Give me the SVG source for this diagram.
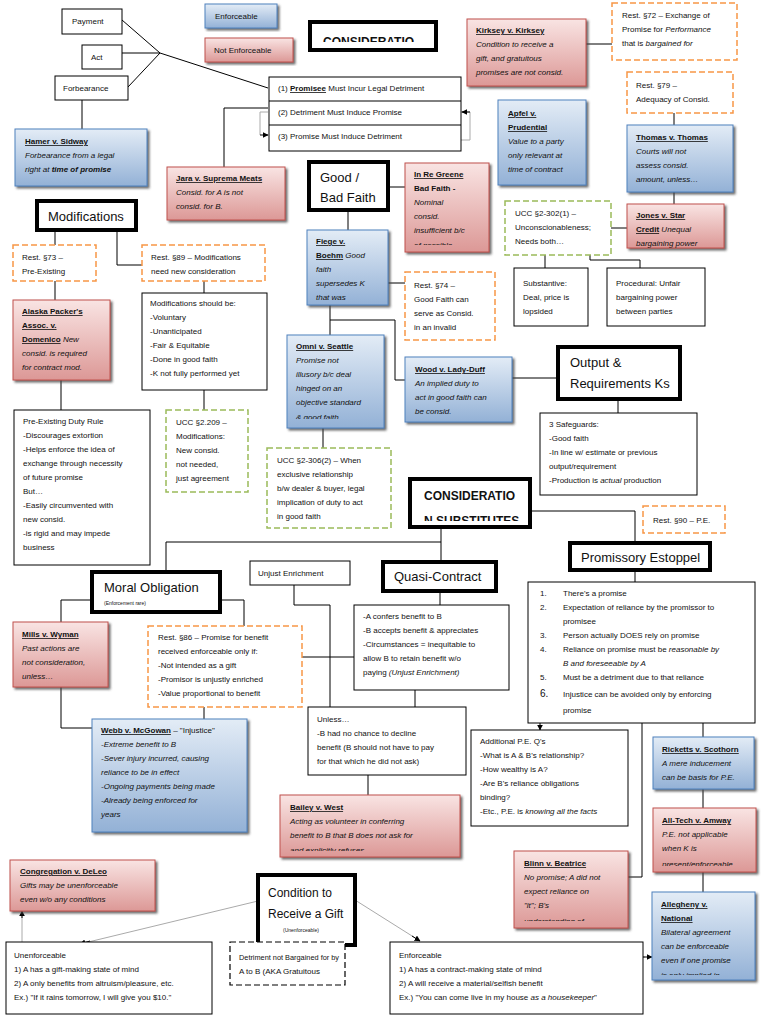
<svg xmlns="http://www.w3.org/2000/svg" width="768" height="1024" viewBox="0 0 768 1024">
<style>
text{font-family:"Liberation Sans",Arial,sans-serif;font-size:8px;fill:#111}
.b{font-weight:bold}.i{font-style:italic}.u{text-decoration:underline;font-weight:bold}
.h{font-size:13px}.s{font-size:5px}
.box{fill:#fff;stroke:#000;stroke-width:1}
.thick{fill:#fff;stroke:#000;stroke-width:4}
.red{fill:url(#gr);stroke:#c0504d;stroke-width:1;filter:url(#sh)}
.blue{fill:url(#gb);stroke:#4f81bd;stroke-width:1;filter:url(#sh)}
.or{fill:#fff;stroke:#f79646;stroke-width:1.5;stroke-dasharray:6 3}
.grn{fill:#fff;stroke:#9bbb59;stroke-width:1.5;stroke-dasharray:6 3}
.dash{fill:#fff;stroke:#000;stroke-width:1.2;stroke-dasharray:6 3}
.ln{stroke:#000;fill:none;stroke-width:1}
.gl{stroke:#aaa;fill:none;stroke-width:1}
</style>
<defs>
<linearGradient id="gr" x1="0" y1="0" x2="0" y2="1"><stop offset="0" stop-color="#f9e4e3"/><stop offset="1" stop-color="#dc9896"/></linearGradient>
<linearGradient id="gb" x1="0" y1="0" x2="0" y2="1"><stop offset="0" stop-color="#e3ecf6"/><stop offset="1" stop-color="#93b1d6"/></linearGradient>
<filter id="sh" x="-10%" y="-10%" width="125%" height="125%"><feDropShadow dx="2" dy="2" stdDeviation="0.8" flood-color="#444" flood-opacity="0.8"/></filter>
<marker id="ah" viewBox="0 0 10 10" refX="9" refY="5" markerWidth="6" markerHeight="6" orient="auto"><path d="M0,0L10,5L0,10z" fill="#000"/></marker>
<clipPath id="c1"><rect x="310" y="22" width="126" height="20"/></clipPath>
<clipPath id="c2"><rect x="410" y="479" width="120" height="42"/></clipPath>
<clipPath id="cg"><rect x="405" y="163" width="84" height="82"/></clipPath>
<clipPath id="c74"><rect x="405" y="272" width="90" height="67"/></clipPath>
<clipPath id="com"><rect x="287" y="335" width="97" height="84"/></clipPath>
<clipPath id="cjs"><rect x="627" y="204" width="97" height="44"/></clipPath>
<clipPath id="cba"><rect x="280" y="795" width="180" height="56"/></clipPath>
<clipPath id="cbl"><rect x="514" y="851" width="114" height="70"/></clipPath>
<clipPath id="cat"><rect x="653" y="808" width="103" height="58"/></clipPath>
<clipPath id="cal"><rect x="652" y="892" width="103" height="83"/></clipPath>
</defs>
<rect width="768" height="1024" fill="#fff"/>

<g id="connectors">
<path class="ln" d="M122,20L160,53L268,88M122,53H160M128,87L160,53M82,100V129M268,108H224V167M586,44H612M674,113V125M674,192V204M611,228H627M545,255V268M590,255V260H640V268M388,187H405M348,210V230M388,283H405M330,305V320H395V380H405M330,320V335M512,378H558M618,399V413M323,428V448M55,230V245M117,230V265H142M55,281V300M204,281V293M204,390V410M61,380V410M166,542V572M166,542H441M441,527V562M530,511H635V543M635,570V582M61,622V600H92M61,687V728H92M220,600H244V626M302,657H354M204,707V719M440,591V605M415,690V707M294,585V605H330V707M368,775V795M703,723V737M703,789V808M703,872V892M642,723V877H628"/>
<path class="ln" d="M540,723V730" marker-end="url(#ah)"/>
<path class="gl" d="M461,112H470V140H461"/>
<path class="ln" d="M470,112H462" marker-end="url(#ah)"/>
<path class="gl" d="M268,112H260V135"/>
<path class="ln" d="M260,135H268" marker-end="url(#ah)"/>
<path class="gl" d="M258,901L80,944"/><path class="ln" d="M90,941L80,944" marker-end="url(#ah)"/>
<path class="gl" d="M355,900L420,941"/><path class="ln" d="M412,936L420,941" marker-end="url(#ah)"/>
<path class="gl" d="M22,942V913"/><path class="ln" d="M22,918V911" marker-end="url(#ah)"/>
<path class="gl" d="M628,957H645"/><path class="ln" d="M643,957H652" marker-end="url(#ah)"/>
</g>

<g id="payment"><rect class="box" x="62" y="9" width="60" height="25"/><text x="72" y="24">Payment</text></g>
<g id="act"><rect class="box" x="82" y="45" width="40" height="24"/><text x="91" y="60">Act</text></g>
<g id="forbearance"><rect class="box" x="55" y="76" width="73" height="24"/><text x="63" y="91">Forbearance</text></g>
<g id="legend-enf"><rect class="blue" x="205" y="4" width="72" height="24"/><text x="215" y="19">Enforceable</text></g>
<g id="legend-not"><rect class="red" x="205" y="38" width="88" height="24"/><text x="214" y="53">Not Enforceable</text></g>
<g id="consideration"><rect class="thick" x="310" y="22" width="126" height="28"/><text class="b" x="323" y="46" style="font-size:12px" clip-path="url(#c1)">CONSIDERATIO</text></g>
<g id="promise-rows"><rect class="box" x="269" y="77" width="192" height="74"/><path class="ln" d="M269,101H461M269,125H461"/>
<text x="278" y="91">(1) <tspan class="u">Promisee</tspan> Must Incur Legal Detriment</text>
<text x="278" y="115">(2) Detriment Must Induce Promise</text>
<text x="278" y="139">(3) Promise Must Induce Detriment</text></g>
<g id="hamer"><rect class="blue" x="15" y="129" width="132" height="57"/><text x="25" y="144" class="u">Hamer v. Sidway</text><text x="25" y="158" class="i">Forbearance from a legal</text><text x="25" y="172" class="i">right at <tspan class="b">time of promise</tspan></text></g>
<g id="jara"><rect class="red" x="167" y="167" width="118" height="53"/><text x="176" y="181" class="u">Jara v. Suprema Meats</text><text x="176" y="195" class="i">Consid. for A is not</text><text x="176" y="209" class="i">consid. for B.</text></g>
<g id="kirksey"><rect class="red" x="467" y="19" width="119" height="67"/><text x="476" y="33" class="u">Kirksey v. Kirksey</text><text x="476" y="47" class="i">Condition to receive a</text><text x="476" y="61" class="i">gift, and gratuitous</text><text x="476" y="75" class="i">promises are not consid.</text></g>
<g id="rest72"><rect class="or" x="612" y="3" width="125" height="57"/><text x="622" y="18">Rest. §72 – Exchange of</text><text x="622" y="32">Promise for <tspan class="i">Performance</tspan></text><text x="622" y="46">that is <tspan class="i">bargained for</tspan></text></g>
<g id="rest79"><rect class="or" x="627" y="72" width="106" height="41"/><text x="636" y="88">Rest. §79 –</text><text x="636" y="102">Adequacy of Consid.</text></g>
<g id="apfel"><rect class="blue" x="498" y="100" width="88" height="85"/><text x="508" y="116" class="u">Apfel v.</text><text x="508" y="130" class="u">Prudential</text><text x="508" y="144" class="i">Value to a party</text><text x="508" y="158" class="i">only relevant at</text><text x="508" y="172" class="i">time of contract</text></g>
<g id="thomas"><rect class="blue" x="627" y="125" width="106" height="67"/><text x="636" y="140" class="u">Thomas v. Thomas</text><text x="636" y="154" class="i">Courts will not</text><text x="636" y="168" class="i">assess consid.</text><text x="636" y="182" class="i">amount, unless…</text></g>
<g id="jones"><rect class="red" x="627" y="204" width="97" height="44"/><g clip-path="url(#cjs)"><text x="636" y="218" class="u">Jones v. Star</text><text x="636" y="232"><tspan class="u">Credit</tspan><tspan class="i">  Unequal</tspan></text><text x="636" y="246" class="i">bargaining power</text></g></g>
<g id="ucc2302"><rect class="grn" x="505" y="201" width="106" height="54"/><text x="515" y="216">UCC §2-302(1) –</text><text x="515" y="230">Unconscionableness;</text><text x="515" y="244">Needs both…</text></g>
<g id="substantive"><rect class="box" x="514" y="268" width="74" height="58"/><text x="523" y="286">Substantive:</text><text x="523" y="300">Deal, price is</text><text x="523" y="314">lopsided</text></g>
<g id="procedural"><rect class="box" x="607" y="268" width="98" height="58"/><text x="616" y="286">Procedural: Unfair</text><text x="616" y="300">bargaining power</text><text x="616" y="314">between parties</text></g>
<g id="goodbad"><rect class="thick" x="309" y="162" width="79" height="48"/><text x="320" y="182" class="h">Good /</text><text x="320" y="202" class="h">Bad Faith</text></g>
<g id="greene"><rect class="red" x="405" y="163" width="84" height="89"/><g clip-path="url(#cg)"><text x="414" y="177" class="u">In Re Greene</text><text x="414" y="191" class="b">Bad Faith -</text><text x="414" y="205" class="i">Nominal</text><text x="414" y="219" class="i">consid.</text><text x="414" y="233" class="i">insufficient b/c</text><text x="414" y="248" class="i">of possible</text></g></g>
<g id="fiege"><rect class="blue" x="307" y="230" width="81" height="75"/><text x="316" y="244" class="u">Fiege v.</text><text x="316" y="258"><tspan class="u">Boehm</tspan><tspan class="i">   Good</tspan></text><text x="316" y="272" class="i">faith</text><text x="316" y="286" class="i">supersedes K</text><text x="316" y="300" class="i">that was</text></g>
<g id="rest74"><rect class="or" x="405" y="272" width="90" height="68"/><g clip-path="url(#c74)"><text x="414" y="288">Rest. §74 –</text><text x="414" y="302">Good Faith can</text><text x="414" y="316">serve as Consid.</text><text x="414" y="330">in an invalid</text></g></g>
<g id="omni"><rect class="blue" x="287" y="335" width="97" height="93"/><g clip-path="url(#com)"><text x="296" y="349" class="u">Omni v. Seattle</text><text x="296" y="363" class="i">Promise not</text><text x="296" y="377" class="i">illusory b/c deal</text><text x="296" y="391" class="i">hinged on an</text><text x="296" y="405" class="i">objective standard</text><text x="296" y="420" class="i">&amp; good faith</text></g></g>
<g id="wood"><rect class="blue" x="405" y="357" width="107" height="65"/><text x="415" y="372" class="u">Wood v. Lady-Duff</text><text x="415" y="386" class="i">An implied duty to</text><text x="415" y="400" class="i">act in good faith can</text><text x="415" y="414" class="i">be consid.</text></g>
<g id="output"><rect class="thick" x="558" y="347" width="122" height="52"/><text x="570" y="367" class="h">Output &amp;</text><text x="570" y="388" class="h">Requirements Ks</text></g>
<g id="safeguards"><rect class="box" x="540" y="413" width="157" height="82"/><text x="549" y="427">3 Safeguards:</text><text x="549" y="441">-Good faith</text><text x="549" y="455">-In line w/ estimate or previous</text><text x="549" y="469">output/requirement</text><text x="549" y="483">-Production is <tspan class="i">actual</tspan> production</text></g>
<g id="ucc2306"><rect class="grn" x="267" y="448" width="124" height="80"/><text x="277" y="463">UCC §2-306(2) – When</text><text x="277" y="477">exclusive relationship</text><text x="277" y="491">b/w dealer &amp; buyer, legal</text><text x="277" y="505">implication of duty to act</text><text x="277" y="519">in good faith</text></g>
<g id="modifications"><rect class="thick" x="37" y="201" width="99" height="29"/><text x="48" y="221" class="h">Modifications</text></g>
<g id="rest73"><rect class="or" x="13" y="245" width="83" height="36"/><text x="22" y="260">Rest. §73 –</text><text x="22" y="274">Pre-Existing</text></g>
<g id="rest89"><rect class="or" x="142" y="245" width="123" height="36"/><text x="151" y="260">Rest. §89 – Modifications</text><text x="151" y="274">need new consideration</text></g>
<g id="alaska"><rect class="red" x="13" y="300" width="97" height="80"/><text x="22" y="314" class="u">Alaska Packer's</text><text x="22" y="328" class="u">Assoc. v.</text><text x="22" y="342"><tspan class="u">Domenico</tspan><tspan class="i">   New</tspan></text><text x="22" y="356" class="i">consid. is required</text><text x="22" y="370" class="i">for contract mod.</text></g>
<g id="modshould"><rect class="box" x="142" y="293" width="125" height="97"/><text x="150" y="306">Modifications should be:</text><text x="150" y="320">-Voluntary</text><text x="150" y="334">-Unanticipated</text><text x="150" y="348">-Fair &amp; Equitable</text><text x="150" y="362">-Done in good faith</text><text x="150" y="376">-K not fully performed yet</text></g>
<g id="ucc2209"><rect class="grn" x="166" y="410" width="82" height="82"/><text x="176" y="425">UCC §2.209 –</text><text x="176" y="439">Modifications:</text><text x="176" y="453">New consid.</text><text x="176" y="467">not needed,</text><text x="176" y="481">just agreement</text></g>
<g id="preexisting"><rect class="box" x="14" y="410" width="136" height="155"/><text x="23" y="424">Pre-Existing Duty Rule</text><text x="23" y="438">-Discourages extortion</text><text x="23" y="452">-Helps enforce the idea of</text><text x="23" y="466">exchange through necessity</text><text x="23" y="480">of future promise</text><text x="23" y="494">But…</text><text x="23" y="508">-Easily circumvented with</text><text x="23" y="522">new consid.</text><text x="23" y="536">-is rigid and may impede</text><text x="23" y="550">business</text></g>
<g id="substitutes"><rect class="thick" x="410" y="479" width="120" height="48"/><g clip-path="url(#c2)"><text x="424" y="500" class="b" style="font-size:12px">CONSIDERATIO</text><text x="424" y="525" class="b" style="font-size:12px">N SUBSTITUTES</text></g></g>
<g id="rest90"><rect class="or" x="643" y="506" width="82" height="27"/><text x="653" y="523">Rest. §90 – P.E.</text></g>
<g id="pe"><rect class="thick" x="570" y="543" width="140" height="27"/><text x="581" y="562" class="h">Promissory Estoppel</text></g>
<g id="pelist"><rect class="box" x="528" y="582" width="227" height="141"/><text x="540" y="596">1.</text><text x="563" y="596">There's a promise</text><text x="540" y="610">2.</text><text x="563" y="610">Expectation of reliance by the promissor to</text><text x="563" y="624">promisee</text><text x="540" y="638">3.</text><text x="563" y="638">Person actually DOES rely on promise</text><text x="540" y="652">4.</text><text x="563" y="652">Reliance on promise must be <tspan class="i">reasonable by</tspan></text><text x="563" y="666" class="i">B and foreseeable by A</text><text x="540" y="680">5.</text><text x="563" y="680">Must be a detriment due to that reliance</text><text x="540" y="697" style="font-size:10px">6.</text><text x="563" y="697">Injustice can be avoided only by enforcing</text><text x="563" y="713">promise</text></g>
<g id="moral"><rect class="thick" x="92" y="572" width="128" height="40"/><text x="104" y="592" class="h">Moral Obligation</text><text x="104" y="605" class="s">(Enforcement rare)</text></g>
<g id="unjust"><rect class="box" x="250" y="561" width="100" height="24"/><text x="258" y="576">Unjust Enrichment</text></g>
<g id="quasi"><rect class="thick" x="383" y="562" width="113" height="29"/><text x="394" y="581" class="h">Quasi-Contract</text></g>
<g id="quasilist"><rect class="box" x="354" y="605" width="155" height="85"/><text x="363" y="619">-A confers benefit to B</text><text x="363" y="633">-B accepts benefit &amp; appreciates</text><text x="363" y="647">-Circumstances = inequitable to</text><text x="363" y="661">allow B to retain benefit w/o</text><text x="363" y="675">paying <tspan class="i">(Unjust Enrichment)</tspan></text></g>
<g id="mills"><rect class="red" x="13" y="622" width="95" height="65"/><text x="22" y="637" class="u">Mills v. Wyman</text><text x="22" y="651" class="i">Past actions are</text><text x="22" y="665" class="i">not consideration,</text><text x="22" y="679" class="i">unless…</text></g>
<g id="rest86"><rect class="or" x="148" y="626" width="154" height="81"/><text x="158" y="640">Rest. §86 – Promise for benefit</text><text x="158" y="654">received enforceable only if:</text><text x="158" y="668">-Not intended as a gift</text><text x="158" y="682">-Promisor is unjustly enriched</text><text x="158" y="696">-Value proportional to benefit</text></g>
<g id="webb"><rect class="blue" x="92" y="719" width="155" height="113"/><text x="101" y="733"><tspan class="u">Webb v. McGowan</tspan> – "Injustice"</text><text x="101" y="747" class="i">-Extreme benefit to B</text><text x="101" y="761" class="i">-Sever injury incurred, causing</text><text x="101" y="775" class="i">reliance to be in effect</text><text x="101" y="789" class="i">-Ongoing payments being made</text><text x="101" y="803" class="i">-Already being enforced for</text><text x="101" y="817" class="i">years</text></g>
<g id="unless"><rect class="box" x="308" y="707" width="158" height="68"/><text x="317" y="722">Unless…</text><text x="317" y="736">-B had no chance to decline</text><text x="317" y="750">benefit (B should not have to pay</text><text x="317" y="764">for that which he did not ask)</text></g>
<g id="bailey"><rect class="red" x="280" y="795" width="180" height="62"/><g clip-path="url(#cba)"><text x="290" y="810" class="u">Bailey v. West</text><text x="290" y="824" class="i">Acting as volunteer in conferring</text><text x="290" y="838" class="i">benefit to B that B does not ask for</text><text x="290" y="853" class="i">and explicitly refuses</text></g></g>
<g id="additional"><rect class="box" x="471" y="730" width="157" height="96"/><text x="480" y="744">Additional P.E. Q's</text><text x="480" y="758">-What is A &amp; B's relationship?</text><text x="480" y="772">-How wealthy is A?</text><text x="480" y="786">-Are B's reliance obligations</text><text x="480" y="800">binding?</text><text x="480" y="814">-Etc., P.E. is <tspan class="i">knowing all the facts</tspan></text></g>
<g id="ricketts"><rect class="blue" x="653" y="737" width="101" height="52"/><text x="662" y="752" class="u">Ricketts v. Scothorn</text><text x="662" y="766" class="i">A mere inducement</text><text x="662" y="780" class="i">can be basis for P.E.</text></g>
<g id="alltech"><rect class="red" x="653" y="808" width="103" height="64"/><g clip-path="url(#cat)"><text x="662" y="823" class="u">All-Tech v. Amway</text><text x="662" y="837" class="i">P.E. not applicable</text><text x="662" y="851" class="i">when K is</text><text x="662" y="867" class="i">present/enforceable</text></g></g>
<g id="allegheny"><rect class="blue" x="652" y="892" width="103" height="88"/><g clip-path="url(#cal)"><text x="661" y="907" class="u">Allegheny v.</text><text x="661" y="921" class="u">National</text><text x="661" y="935" class="i">Bilateral agreement</text><text x="661" y="949" class="i">can be enforceable</text><text x="661" y="963" class="i">even if one promise</text><text x="661" y="978" class="i">is only implied in</text></g></g>
<g id="blinn"><rect class="red" x="514" y="851" width="114" height="77"/><g clip-path="url(#cbl)"><text x="524" y="866" class="u">Blinn v. Beatrice</text><text x="524" y="880" class="i">No promise; A did not</text><text x="524" y="894" class="i">expect reliance on</text><text x="524" y="908" class="i">"it"; B's</text><text x="524" y="924" class="i">understanding of</text></g></g>
<g id="congregation"><rect class="red" x="10" y="860" width="145" height="51"/><text x="20" y="874" class="u">Congregation v. DeLeo</text><text x="20" y="888" class="i">Gifts may be unenforceable</text><text x="20" y="902" class="i">even w/o any conditions</text></g>
<g id="condition"><rect class="thick" x="258" y="875" width="97" height="70"/><text x="268" y="897" style="font-size:12px">Condition to</text><text x="268" y="918" style="font-size:12px">Receive a Gift</text><text x="283" y="932" class="s">(Unenforceable)</text></g>
<g id="unenf"><rect class="box" x="6" y="942" width="206" height="72"/><text x="14" y="958">Unenforceable</text><text x="14" y="972">1) A has a gift-making state of mind</text><text x="14" y="986">2) A only benefits from altruism/pleasure, etc.</text><text x="14" y="1000">Ex.) "If it rains tomorrow, I will give you $10."</text></g>
<g id="detriment"><rect class="dash" x="230" y="942" width="115" height="43"/><text x="239" y="960" textLength="100" lengthAdjust="spacingAndGlyphs">Detriment not Bargained for by</text><text x="239" y="974">A to B (AKA Gratuitous</text></g>
<g id="enf"><rect class="box" x="390" y="942" width="253" height="72"/><text x="399" y="958">Enforceable</text><text x="399" y="972">1) A has a contract-making state of mind</text><text x="399" y="986">2) A will receive a material/selfish benefit</text><text x="399" y="1000">Ex.) "You can come live in my house <tspan class="i">as a housekeeper</tspan>"</text></g>
</svg>
